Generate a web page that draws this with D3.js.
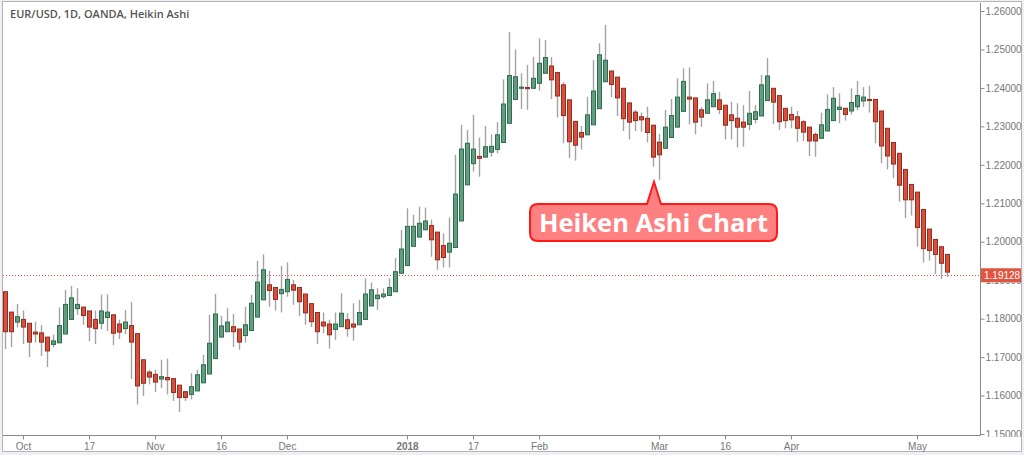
<!DOCTYPE html>
<html>
<head>
<meta charset="utf-8">
<script src="https://cdn.jsdelivr.net/npm/d3@7"></script>
<style>
  html, body { margin: 0; padding: 0; background: #f0f0f4; }
  svg { display: block; }
</style>
</head>
<body>
<svg id="chart" width="1024" height="455"></svg>
<script>
// Heikin Ashi candles, EUR/USD daily (one value per bar)
const opens = [
  1.1870,1.1817,1.1791,1.1798,1.1788,1.1765,1.1763,1.1752,1.1733,1.1737,
  1.1760,1.1798,1.1826,1.1830,1.1820,1.1798,1.1788,1.1803,1.1810,1.1786,
  1.1774,1.1782,1.1761,1.1693,1.1661,1.1655,1.1643,1.1647,1.1644,1.1627,
  1.1610,1.1603,1.1612,1.1633,1.1656,1.1696,1.1752,1.1766,1.1779,1.1773,
  1.1756,1.1769,1.1804,1.1849,1.1888,1.1881,1.1865,1.1870,1.1888,1.1881,
  1.1864,1.1839,1.1816,1.1791,1.1786,1.1772,1.1779,1.1797,1.1786,1.1784,
  1.1798,1.1833,1.1852,1.1857,1.1860,1.1870,1.1918,1.1938,1.1988,1.2012,
  1.2031,1.2042,1.2025,1.1990,1.1973,1.1985,1.2054,1.2148,1.2203,1.2222,
  1.2220,1.2233,1.2240,1.2258,1.2308,1.2370,1.2399,1.2401,1.2399,1.2412,
  1.2438,1.2457,1.2440,1.2408,1.2369,1.2313,1.2284,1.2278,1.2304,1.2346,
  1.2416,1.2444,1.2428,1.2399,1.2361,1.2337,1.2325,1.2321,1.2303,1.2259,
  1.2243,1.2271,1.2298,1.2339,1.2376,1.2374,1.2343,1.2334,1.2351,1.2369,
  1.2355,1.2330,1.2321,1.2311,1.2305,1.2318,1.2327,1.2367,1.2399,1.2380,
  1.2347,1.2331,1.2325,1.2312,1.2298,1.2279,1.2269,1.2288,1.2315,1.2344,
  1.2347,1.2340,1.2351,1.2366,1.2370,1.2370,1.2340,1.2295,1.2258,1.2230,
  1.2188,1.2149,1.2129,1.2084,1.2033,1.2006,1.1987,1.1967
];
const highs = [
  1.1870,1.1817,1.1838,1.1821,1.1788,1.1792,1.1783,1.1752,1.1759,1.1829,
  1.1875,1.1885,1.1879,1.1830,1.1820,1.1821,1.1863,1.1863,1.1810,1.1797,
  1.1823,1.1843,1.1761,1.1693,1.1667,1.1667,1.1693,1.1696,1.1644,1.1627,
  1.1610,1.1658,1.1667,1.1706,1.1810,1.1864,1.1807,1.1827,1.1812,1.1773,
  1.1831,1.1862,1.1950,1.1967,1.1924,1.1881,1.1937,1.1946,1.1901,1.1881,
  1.1864,1.1839,1.1816,1.1816,1.1797,1.1816,1.1866,1.1814,1.1840,1.1849,
  1.1905,1.1894,1.1879,1.1879,1.1905,1.1958,1.2031,1.2087,1.2070,1.2091,
  1.2089,1.2057,1.2025,1.2022,1.2063,1.2226,1.2304,1.2291,1.2330,1.2271,
  1.2301,1.2279,1.2311,1.2422,1.2545,1.2500,1.2438,1.2460,1.2481,1.2529,
  1.2525,1.2480,1.2440,1.2415,1.2369,1.2313,1.2301,1.2377,1.2473,1.2516,
  1.2564,1.2444,1.2428,1.2399,1.2361,1.2343,1.2336,1.2351,1.2303,1.2280,
  1.2343,1.2371,1.2425,1.2451,1.2453,1.2374,1.2350,1.2412,1.2418,1.2390,
  1.2355,1.2364,1.2360,1.2355,1.2392,1.2355,1.2434,1.2478,1.2399,1.2380,
  1.2347,1.2351,1.2340,1.2317,1.2298,1.2284,1.2336,1.2383,1.2402,1.2386,
  1.2347,1.2399,1.2418,1.2402,1.2406,1.2370,1.2340,1.2295,1.2258,1.2230,
  1.2188,1.2149,1.2129,1.2084,1.2033,1.2006,1.1987,1.1967
];
const lows = [
  1.1721,1.1726,1.1777,1.1734,1.1700,1.1738,1.1703,1.1674,1.1725,1.1737,
  1.1760,1.1798,1.1810,1.1784,1.1741,1.1734,1.1772,1.1768,1.1731,1.1747,
  1.1760,1.1643,1.1577,1.1599,1.1629,1.1609,1.1619,1.1603,1.1586,1.1557,
  1.1586,1.1590,1.1612,1.1633,1.1656,1.1696,1.1752,1.1766,1.1726,1.1719,
  1.1738,1.1769,1.1804,1.1849,1.1831,1.1821,1.1816,1.1857,1.1836,1.1807,
  1.1784,1.1778,1.1734,1.1762,1.1722,1.1744,1.1779,1.1753,1.1743,1.1784,
  1.1798,1.1833,1.1823,1.1852,1.1860,1.1870,1.1918,1.1938,1.1988,1.2012,
  1.2031,1.1961,1.1927,1.1933,1.1933,1.1985,1.2054,1.2148,1.2182,1.2169,
  1.2220,1.2221,1.2230,1.2258,1.2308,1.2370,1.2345,1.2343,1.2399,1.2393,
  1.2438,1.2371,1.2323,1.2256,1.2217,1.2211,1.2240,1.2278,1.2304,1.2346,
  1.2416,1.2376,1.2327,1.2288,1.2266,1.2288,1.2286,1.2258,1.2195,1.2161,
  1.2243,1.2271,1.2298,1.2339,1.2305,1.2279,1.2299,1.2334,1.2351,1.2332,
  1.2266,1.2266,1.2245,1.2247,1.2290,1.2308,1.2327,1.2367,1.2306,1.2291,
  1.2295,1.2295,1.2260,1.2262,1.2223,1.2221,1.2269,1.2288,1.2315,1.2308,
  1.2315,1.2331,1.2343,1.2351,1.2336,1.2256,1.2204,1.2188,1.2165,1.2104,
  1.2061,1.2068,1.1987,1.1946,1.1951,1.1916,1.1903,1.1908
];
const closes = [
  1.1766,1.1766,1.1805,1.1778,1.1739,1.1760,1.1739,1.1716,1.1742,1.1782,
  1.1837,1.1854,1.1837,1.1808,1.1778,1.1774,1.1820,1.1817,1.1762,1.1765,
  1.1791,1.1739,1.1625,1.1632,1.1648,1.1635,1.1649,1.1641,1.1608,1.1595,
  1.1595,1.1623,1.1654,1.1680,1.1736,1.1812,1.1781,1.1791,1.1766,1.1739,
  1.1784,1.1840,1.1895,1.1927,1.1873,1.1850,1.1876,1.1902,1.1874,1.1844,
  1.1815,1.1792,1.1766,1.1781,1.1758,1.1786,1.1814,1.1774,1.1778,1.1816,
  1.1864,1.1875,1.1861,1.1864,1.1881,1.1922,1.1981,1.2040,1.2040,1.2048,
  1.2054,1.2005,1.1953,1.1959,1.1996,1.2124,1.2241,1.2256,1.2241,1.2217,
  1.2247,1.2248,1.2278,1.2358,1.2432,1.2429,1.2402,1.2398,1.2425,1.2464,
  1.2479,1.2421,1.2379,1.2328,1.2260,1.2251,1.2272,1.2330,1.2392,1.2486,
  1.2472,1.2409,1.2374,1.2320,1.2311,1.2315,1.2317,1.2284,1.2220,1.2226,
  1.2298,1.2328,1.2376,1.2417,1.2371,1.2311,1.2324,1.2369,1.2385,1.2344,
  1.2303,1.2315,1.2298,1.2298,1.2334,1.2338,1.2408,1.2431,1.2363,1.2312,
  1.2315,1.2317,1.2295,1.2285,1.2262,1.2262,1.2304,1.2344,1.2373,1.2350,
  1.2331,1.2362,1.2380,1.2376,1.2367,1.2312,1.2249,1.2223,1.2202,1.2147,
  1.2109,1.2109,1.2037,1.1982,1.1977,1.1967,1.1944,1.1921
];

// x axis: bar index of each date label
const tickBars = [3, 14, 25, 36, 47, 67, 78, 89, 109, 120, 131, 152];
const tickLabels = ["Oct", "17", "Nov", "16", "Dec", "2018", "17", "Feb", "Mar", "16", "Apr", "May"];

// y axis price levels
const priceTicks = [1.15, 1.16, 1.17, 1.18, 1.19, 1.20, 1.21, 1.22, 1.23, 1.24, 1.25, 1.26];
const lastPrice = 1.19128;

const title = "EUR/USD, 1D, OANDA, Heikin Ashi";
const calloutText = "Heiken Ashi Chart";
const calloutBar = 109; // bar the callout points at (March low)

const svg = d3.select("#chart");

const plot = { left: 3, right: 980, top: 3, bottom: 435 };
const axisFont = "'Liberation Sans', Arial, sans-serif";

const xScale = d3.scaleLinear().domain([0, opens.length - 1]).range([5, 947]);
const yScale = d3.scaleLinear().domain([1.15, 1.26]).range([434, 11]);

const candles = opens.map((o, i) => ({
  i: i, open: o, high: highs[i], low: lows[i], close: closes[i]
}));

// frame
svg.append("rect")
  .attr("x", 2.5).attr("y", 1.5)
  .attr("width", 1019).attr("height", 450)
  .style("fill", "#fff")
  .style("stroke", "#b4b4b8");

const defs = svg.append("defs");
defs.append("clipPath").attr("id", "plotClip")
  .append("rect")
  .attr("x", plot.left).attr("y", plot.top)
  .attr("width", plot.right - plot.left).attr("height", plot.bottom - plot.top);
defs.append("clipPath").attr("id", "axisClip")
  .append("rect")
  .attr("x", plot.right).attr("y", plot.top)
  .attr("width", 44).attr("height", plot.bottom - plot.top + 2);

// last price dotted line
svg.append("line")
  .attr("x1", plot.left).attr("x2", plot.right)
  .attr("y1", Math.round(yScale(lastPrice)) + 0.5)
  .attr("y2", Math.round(yScale(lastPrice)) + 0.5)
  .style("stroke", "#e0553f")
  .style("stroke-width", 1)
  .style("stroke-dasharray", "1,2");

// candles
const candleGroup = svg.append("g").attr("clip-path", "url(#plotClip)");

candleGroup.selectAll("line.wick")
  .data(candles)
  .enter()
  .append("line")
  .attr("class", "wick")
  .attr("x1", d => Math.round(xScale(d.i)) + 0.5)
  .attr("x2", d => Math.round(xScale(d.i)) + 0.5)
  .attr("y1", d => yScale(d.high))
  .attr("y2", d => yScale(d.low))
  .style("stroke", "#a3a3a3")
  .style("stroke-width", 1.4);

candleGroup.selectAll("rect.body")
  .data(candles)
  .enter()
  .append("rect")
  .attr("class", "body")
  .attr("x", d => Math.round(xScale(d.i)) - 1.5)
  .attr("y", d => yScale(Math.max(d.open, d.close)))
  .attr("width", 4)
  .attr("height", d => Math.max(1, Math.abs(yScale(d.open) - yScale(d.close))))
  .style("fill", d => d.close >= d.open ? "#5f9e7e" : "#d6503c")
  .style("stroke", d => d.close >= d.open ? "#2f6b4c" : "#962b1f")
  .style("stroke-width", 1);

// axis lines
svg.append("line")
  .attr("x1", plot.left).attr("x2", plot.right + 0.5)
  .attr("y1", plot.bottom + 0.5).attr("y2", plot.bottom + 0.5)
  .style("stroke", "#8a8a8a");
svg.append("line")
  .attr("x1", plot.right + 0.5).attr("x2", plot.right + 0.5)
  .attr("y1", plot.top).attr("y2", plot.bottom + 0.5)
  .style("stroke", "#8a8a8a");

// right price axis (outer group carries the clip, inner one the offset)
const yAxis = d3.axisRight(yScale)
  .tickValues(priceTicks)
  .tickSize(4)
  .tickSizeOuter(0)
  .tickFormat(d3.format(".5f"));

const yAxisGroup = svg.append("g")
  .attr("clip-path", "url(#axisClip)")
  .append("g")
  .attr("transform", `translate(${plot.right + 0.5},0)`)
  .call(yAxis);
yAxisGroup.select(".domain").remove();
yAxisGroup.selectAll("line").style("stroke", "#8a8a8a");
yAxisGroup.selectAll("text")
  .attr("x", 5)
  .style("font-family", axisFont)
  .style("font-size", "10px")
  .style("fill", "#777");

// last price tag
const tagY = yScale(lastPrice);
svg.append("rect")
  .attr("x", plot.right + 1).attr("y", tagY - 7)
  .attr("width", 40).attr("height", 14)
  .style("fill", "#e0553f");
svg.append("text")
  .attr("x", plot.right + 4).attr("y", tagY + 3.5)
  .text(d3.format(".5f")(lastPrice))
  .style("font-family", axisFont)
  .style("font-size", "10px")
  .style("fill", "#fff");

// bottom time axis
const xAxis = d3.axisBottom(xScale)
  .tickValues(tickBars)
  .tickSize(4)
  .tickSizeOuter(0)
  .tickFormat((d, i) => tickLabels[i]);

const xAxisGroup = svg.append("g")
  .attr("transform", `translate(0,${plot.bottom + 0.5})`)
  .call(xAxis);
xAxisGroup.select(".domain").remove();
xAxisGroup.selectAll("line").style("stroke", "#8a8a8a");
xAxisGroup.selectAll("text")
  .attr("y", 7)
  .style("font-family", axisFont)
  .style("font-size", "10px")
  .style("fill", "#777")
  .style("font-weight", (d, i) => tickLabels[i] === "2018" ? "bold" : "normal");

// title
svg.append("text")
  .attr("x", 10).attr("y", 18)
  .text(title)
  .style("font-family", "'Open Sans', sans-serif")
  .style("font-size", "11px")
  .style("font-weight", 600)
  .style("fill", "#555");

// callout pointing just below the March low
const tipX = Math.round(xScale(calloutBar)) - 5;
const tipY = yScale(lows[calloutBar]) + 2;
const box = { x1: 530, x2: 777, y1: 204, y2: 241, r: 8 };
const callout = d3.path();
callout.moveTo(box.x1 + box.r, box.y1);
callout.lineTo(tipX - 7, box.y1);
callout.lineTo(tipX, tipY);
callout.lineTo(tipX + 7, box.y1);
callout.lineTo(box.x2 - box.r, box.y1);
callout.quadraticCurveTo(box.x2, box.y1, box.x2, box.y1 + box.r);
callout.lineTo(box.x2, box.y2 - box.r);
callout.quadraticCurveTo(box.x2, box.y2, box.x2 - box.r, box.y2);
callout.lineTo(box.x1 + box.r, box.y2);
callout.quadraticCurveTo(box.x1, box.y2, box.x1, box.y2 - box.r);
callout.lineTo(box.x1, box.y1 + box.r);
callout.quadraticCurveTo(box.x1, box.y1, box.x1 + box.r, box.y1);
callout.closePath();

svg.append("path")
  .attr("d", callout.toString())
  .style("fill", "#ff8080")
  .style("stroke", "#ff1a1a")
  .style("stroke-width", 2);

svg.append("text")
  .attr("x", (box.x1 + box.x2) / 2)
  .attr("y", box.y2 - 9)
  .attr("text-anchor", "middle")
  .text(calloutText)
  .style("font-family", "'Open Sans', sans-serif")
  .style("font-size", "25.5px")
  .style("font-weight", "bold")
  .style("fill", "#fff");
</script>
</body>
</html>
